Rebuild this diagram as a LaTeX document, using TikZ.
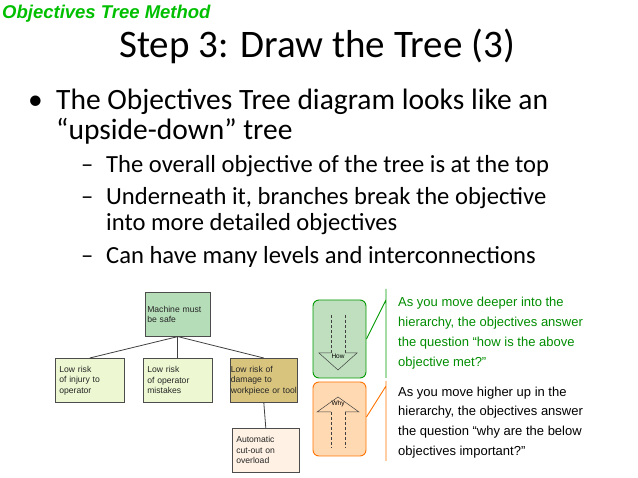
\documentclass[tikz,border=0pt]{standalone}
\usepackage{fontspec}
\setmainfont{Carlito}
\newfontfamily\arialf{Liberation Sans}
\definecolor{tan}{HTML}{D9C47E}
\definecolor{mgreen}{HTML}{B5DDB8}
\definecolor{plime}{HTML}{EDF8D2}
\begin{document}
\begin{tikzpicture}[x=1pt,y=-1pt,
  tbox/.style={draw=black!70,line width=0.6pt,anchor=north west,inner sep=0pt,minimum height=44pt,align=left,font=\arialf\fontsize{8.6}{10.5}\selectfont,text=black!85},
  tl/.style={line width=0.8pt,draw=black!75},
  body/.style={anchor=base west,font=\fontsize{29.5}{32}\selectfont,inner sep=0pt},
  subb/.style={anchor=base west,font=\fontsize{24.6}{27}\selectfont,inner sep=0pt},
  side/.style={anchor=base west,font=\arialf\fontsize{13}{15}\selectfont,inner sep=0pt}]
\useasboundingbox (0,0) rectangle (638,478);
\node[anchor=base west,inner sep=0pt,font=\arialf\bfseries\itshape\fontsize{18.5}{20}\selectfont,text=green!75!black] (hdr) at (2,19) {Objectives Tree Method};
\node[anchor=base,inner sep=0pt,font=\fontsize{39}{42}\selectfont] (title) at (317,58) {Step 3: Draw the Tree (3)};
\node[body] (b1) at (28,110) {•};
\node[body] (l1) at (56,110) {The Objectives Tree diagram looks like an};
\node[body] (l2) at (56,140) {“upside-down” tree};
\node[subb] (d1) at (81,173) {–};
\node[subb] (s1) at (106,173) {The overall objective of the tree is at the top};
\node[subb] (d2) at (81,205) {–};
\node[subb] (s2) at (106,205) {Underneath it, branches break the objective};
\node[subb] (s2b) at (106,231) {into more detailed objectives};
\node[subb] (d3) at (81,264) {–};
\node[subb] (s3) at (106,264) {Can have many levels and interconnections};
% tree
\node[tbox,fill=mgreen,minimum width=65pt,text width=61pt,inner xsep=2pt] (m) at (145,292) {Machine must\\be safe\\[11pt]};
\node[tbox,fill=plime,minimum width=67pt,text width=61pt,inner xsep=4pt] (a) at (55,358) {Low risk\\of injury to\\operator};
\node[tbox,fill=plime,minimum width=67pt,text width=61pt,inner xsep=4pt] (b) at (143,358) {Low risk\\of operator\\mistakes};
\node[tbox,fill=tan,minimum width=67pt,text width=66pt,inner xsep=0.5pt] (c) at (230,358) {Low risk of\\damage to\\workpiece or tool};
\node[tbox,fill=orange!10,minimum width=65pt,text width=59pt,inner xsep=4pt] (d) at (232,428) {Automatic\\cut-out on\\overload};
\draw[tl] (m.south) -- (a.north);
\draw[tl] (m.south) -- (b.north);
\draw[tl] (m.south) -- (c.north);
\draw[tl] (c.south) -- (d.north);
% how / why
\node[draw=green!60!black,fill=green!50!black!25,rounded corners=6pt,line width=0.9pt,minimum width=53pt,minimum height=78pt,inner sep=0pt] (gb) at (339.5,339) {};
\node[draw=orange!90!red,fill=orange!30,rounded corners=6pt,line width=0.9pt,minimum width=53pt,minimum height=74pt,inner sep=0pt] (ob) at (339.5,419) {};
\draw[black!75,line width=0.5pt,dash pattern=on 3pt off 2pt] (331,315) -- (331,353) (345,315) -- (345,353);
\draw[black!75,line width=0.5pt,fill=green!50!black!25] (331,353) -- (319,353) -- (338,370) -- (357,353) -- (345,353);
\node[inner sep=0pt,font=\arialf\fontsize{6.5}{7}\selectfont] (how) at (338,356) {How};
\draw[black!75,line width=0.5pt,fill=orange!30] (331,412) -- (317,412) -- (338,397) -- (359,412) -- (345,412);
\draw[black!75,line width=0.5pt,dash pattern=on 3pt off 2pt] (331,412) -- (331,448) (345,412) -- (345,448);
\node[inner sep=0pt,font=\arialf\fontsize{6.5}{7}\selectfont] (why) at (338,404) {Why};
\coordinate (g1) at (386,289); \coordinate (g2) at (386,378); \coordinate (g3) at (386,300);
\coordinate (o1) at (386,381); \coordinate (o2) at (386,461); \coordinate (o3) at (386,386);
\draw[green!60!black,line width=0.9pt] (g1) -- (g2) (gb.east) -- (g3);
\draw[orange!90!red,line width=0.9pt] (o1) -- (o2) ([yshift=2pt]ob.east) -- (o3);
\begin{scope}[every node/.style={side,text=green!55!black}]
\node (t1) at (398,307) {As you move deeper into the};
\node (t2) at (398,327) {hierarchy, the objectives answer};
\node (t3) at (398,347) {the question “how is the above};
\node (t4) at (398,367) {objective met?”};
\end{scope}
\begin{scope}[every node/.style={side,text=black}]
\node (u1) at (398,397) {As you move higher up in the};
\node (u2) at (398,416) {hierarchy, the objectives answer};
\node (u3) at (398,436) {the question “why are the below};
\node (u4) at (398,456) {objectives important?”};
\end{scope}
\end{tikzpicture}
\end{document}
